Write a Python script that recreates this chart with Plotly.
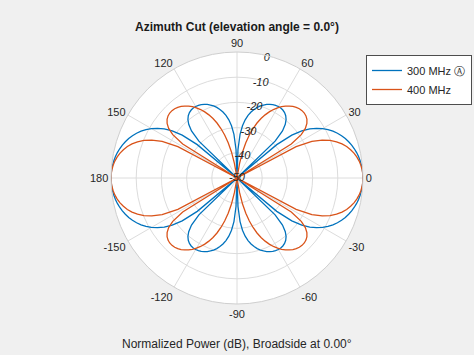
import plotly.graph_objects as go

# Azimuth angles (deg) for one quadrant, 0..90 step 2; pattern is symmetric about 0 and 90 deg
quad_angles = list(range(0, 92, 2))

# Normalized power (dB) for 0..90 deg, clipped at -50 dB
p300 = [0.0, -0.04, -0.16, -0.36, -0.65, -1.02, -1.47, -2.02, -2.67, -3.41,
        -4.27, -5.25, -6.37, -7.64, -9.10, -10.79, -12.78, -15.18, -18.21, -22.40,
        -29.41, -49.6, -28.97, -24.01, -21.37, -19.70, -18.60, -17.89, -17.47, -17.26,
        -17.23, -17.36, -17.62, -18.02, -18.53, -19.18, -19.95, -20.87, -21.95, -23.23,
        -24.77, -26.68, -29.16, -32.67, -38.69, -50.0]
p400 = [0.0, -0.07, -0.27, -0.61, -1.10, -1.74, -2.55, -3.54, -4.74, -6.19,
        -7.97, -10.17, -13.00, -16.94, -23.43, -50.0, -24.59, -19.25, -16.48, -14.81,
        -13.78, -13.17, -12.88, -12.85, -13.04, -13.42, -13.98, -14.70, -15.59, -16.64,
        -17.85, -19.23, -20.80, -22.57, -24.57, -26.78, -29.35, -32.24, -35.57, -39.42,
        -44.08, -49.88, -50.0, -50.0, -50.0, -50.0]

series_names = ["300 MHz \u24B6", "400 MHz"]
series_colors = ["#0072BD", "#D95319"]

angle_ticks = [0, 30, 60, 90, 120, 150, 180, 210, 240, 270, 300, 330]
angle_labels = ["0", "30", "60", "90", "120", "150", "180", "-150", "-120", "-90", "-60", "-30"]
r_ticks = [-50, -40, -30, -20, -10, 0]
r_labels = ["-50", "-40", "-30", "-20", "-10", "0"]
r_label_angle = 76


def mirror(angles, vals):
    # 0..180 from symmetry about 90 deg
    a_half = angles + [180 - a for a in angles[-2::-1]]
    v_half = vals + vals[-2::-1]
    # -180..180 from symmetry about 0 deg
    a_full = [-a for a in a_half[:0:-1]] + a_half
    v_full = v_half[:0:-1] + v_half
    return a_full, v_full


fig = go.Figure()
for name, vals, col in zip(series_names, [p300, p400], series_colors):
    th, r = mirror(quad_angles, vals)
    fig.add_trace(go.Scatterpolar(r=r, theta=th, mode="lines", name=name,
                                  line=dict(color=col, width=1.3)))

# radial tick labels (horizontal, italic) placed along the radial axis direction
fig.add_trace(go.Scatterpolar(r=[v - 1.2 if v > -50 else v for v in r_ticks],
                              theta=[r_label_angle] * len(r_ticks),
                              mode="text", text=r_labels, showlegend=False, hoverinfo="skip",
                              textfont=dict(family="Liberation Sans, Arial", size=11,
                                            color="#262626", style="italic")))

grid_col = "#dcdcdc"
fig.update_layout(
    width=474, height=355,
    margin=dict(l=0, r=0, t=0, b=0, autoexpand=False),
    paper_bgcolor="#f0f0f0",
    font=dict(family="Liberation Sans, Arial", size=11, color="#262626"),
    title=dict(text="<b>Azimuth Cut (elevation angle = 0.0\u00b0)</b>",
               x=0.5, xanchor="center", y=1 - 27 / 355, yanchor="middle",
               font=dict(size=12, color="#1a1a1a")),
    polar=dict(
        domain=dict(x=[111 / 474, 363 / 474], y=[51 / 355, 303 / 355]),
        bgcolor="white",
        angularaxis=dict(rotation=0, direction="counterclockwise",
                         tickmode="array", tickvals=angle_ticks, ticktext=angle_labels,
                         gridcolor=grid_col, linecolor="#cfcfcf", linewidth=1,
                         ticks="", tickfont=dict(size=11, color="#262626")),
        radialaxis=dict(range=[-50, 0], tickmode="array", tickvals=r_ticks,
                        showticklabels=False, angle=r_label_angle,
                        showline=False, ticks="", gridcolor=grid_col),
    ),
    legend=dict(x=366 / 474, y=1 - 55 / 355, xanchor="left", yanchor="top",
                bgcolor="white", bordercolor="#4d4d4d", borderwidth=1,
                font=dict(size=11, color="#262626"), tracegroupgap=0,
                itemwidth=30),
    showlegend=True,
)
fig.add_annotation(text="Normalized Power (dB), Broadside at 0.00\u00b0",
                   xref="paper", yref="paper", x=0.5, y=1 - 344 / 355,
                   xanchor="center", yanchor="middle", showarrow=False,
                   font=dict(size=12, color="#262626"))

fig.write_html("out.html",
               config={"displayModeBar": False},
               post_script="document.body.style.margin='0';document.body.style.padding='0';"
                           "document.body.style.overflow='hidden';")
